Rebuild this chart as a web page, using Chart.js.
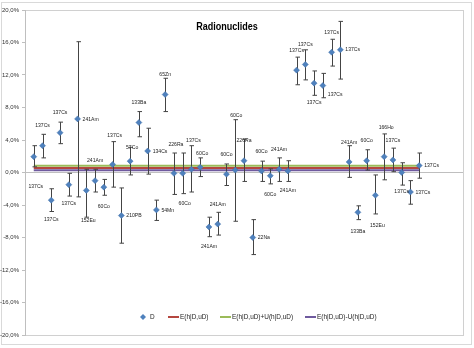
<!DOCTYPE html>
<html>
<head>
<meta charset="utf-8">
<script src="https://cdn.jsdelivr.net/npm/chart.js@4/dist/chart.umd.min.js"></script>
<style>
html,body{margin:0;padding:0;background:#fff;}
#wrap{width:474px;height:348px;position:relative;}
</style>
</head>
<body>
<div id="wrap"><canvas id="c" width="474" height="348"></canvas></div>
<script>
// ---- data (values in %) ----
const nuclides = ["137Cs","137Cs","137Cs","137Cs","137Cs","241Am","152Eu","241Am","60Co","137Cs",
  "210PB","57Co","133Ba","134Cs","54Mn","65Zn","226Ra","60Co","137Cs","60Co",
  "241Am","241Am","60Co","60Co","226Ra","22Na","60Co","60Co","241Am","241Am",
  "137Cs","137Cs","137Cs","137Cs","137Cs","137Cs","241Am","133Ba","60Co","152Eu",
  "166Ho","137Cs","137Cs","137Cs","137Cs"];
const dValues = [1.95,3.3,-3.4,4.9,-1.5,6.6,-2.2,-1.0,-1.8,1.0,
  -5.3,1.4,6.15,2.65,-4.6,9.6,-0.1,-0.1,0.4,0.65,
  -6.7,-6.35,-0.2,0.3,1.45,-8.0,0.2,-0.4,0.4,0.2,
  12.6,13.3,11.0,10.7,14.8,15.1,1.3,-4.9,1.45,-2.8,
  1.95,1.55,0.0,-2.4,0.85];
const upperValues = [3.3,4.7,-2.0,6.2,-0.1,16.1,0.4,0.4,-0.85,3.8,
  -1.9,3.1,7.5,5.45,-3.4,11.6,2.4,2.4,3.3,1.8,
  -5.5,-4.9,1.05,6.5,4.1,-5.8,1.4,0.45,1.8,1.45,
  14.2,15.1,12.5,12.2,16.4,18.6,3.3,-4.1,2.8,-0.3,
  4.75,3.0,1.2,-1.0,2.4];
const lowerValues = [0.7,1.8,-4.8,3.55,-2.9,-3.0,-5.5,-2.4,-2.8,-1.8,
  -8.7,-0.3,4.4,-0.2,-5.9,7.5,-2.7,-2.6,-2.4,-0.5,
  -7.9,-7.7,-1.6,-6.0,-1.1,-10.1,-1.1,-1.4,-1.1,-1.1,
  10.8,11.4,9.5,9.2,13.1,11.5,-0.6,-5.8,0.3,-5.1,
  -0.9,0.1,-1.55,-3.9,-0.7];
// label placement codes: a=above, A=far above, n=near above, T=above error bar,
// b=below, B=far below, r=right, R=right-low
const labelPlacement = ["B","a","b","a","b","r","B","a","b","A",
  "r","n","a","r","r","a","A","B","A","n",
  "b","a","a","T","a","r","a","b","a","b",
  "a","a","b","R","a","r","a","b","a","B",
  "A","a","b","r","r"];
const eValue = [0.55];
const uValue = [0.28];
const yTicks = [-20,-16,-12,-8,-4,0,4,8,12,16,20];
const seriesNames = ["D","E(h|D,uD)","E(h|D,uD)+U(h|D,uD)","E(h|D,uD)-U(h|D,uD)"];

const COLORS = {d:"#4F81BD", e:"#B5473F", eu:"#9BBB59", el:"#6F5A9E", err:"#444444"};
const FONT = "'Liberation Sans',Arial,sans-serif";

const pts = dValues.map((v,i)=>({x:i+1,y:v}));
const xFirst = 1, xLast = dValues.length;
const E = eValue[0], U = uValue[0];

function narrowText(ctx, text, x, y, sx){
  ctx.save(); ctx.translate(x,y); ctx.scale(sx,1); ctx.fillText(text,0,0); ctx.restore();
}

const errorBars = {
  id:'errorBars',
  beforeDatasetDraw(chart, args){
    if(args.index!==3) return;
    const {ctx, scales:{x,y}} = chart;
    ctx.save();
    ctx.strokeStyle = COLORS.err; ctx.lineWidth = 1;
    dValues.forEach((v,i)=>{
      const px = Math.round(x.getPixelForValue(i+1))+0.5;
      const yt = y.getPixelForValue(upperValues[i]);
      const yb = y.getPixelForValue(lowerValues[i]);
      ctx.beginPath();
      ctx.moveTo(px,yt); ctx.lineTo(px,yb);
      ctx.moveTo(px-2,yt); ctx.lineTo(px+2.5,yt);
      ctx.moveTo(px-2,yb); ctx.lineTo(px+2.5,yb);
      ctx.stroke();
    });
    ctx.restore();
  }
};

const decorations = {
  id:'decorations',
  beforeDraw(chart){
    const {ctx, chartArea:a} = chart;
    ctx.save();
    ctx.fillStyle='#fff'; ctx.fillRect(0,0,chart.width,chart.height);
    ctx.strokeStyle='#d9d9d9'; ctx.lineWidth=1;
    ctx.strokeRect(1.5,2.5,470,342);
    ctx.strokeStyle='#d0d0d0';
    ctx.strokeRect(Math.round(a.left)+0.5,Math.round(a.top)+0.5,Math.round(a.right-a.left),Math.round(a.bottom-a.top));
    ctx.restore();
  },
  afterDraw(chart){
    const {ctx, scales:{x,y}} = chart;
    ctx.save();
    ctx.fillStyle='#000';
    ctx.font = "bold 11px "+FONT;
    ctx.textAlign='center'; ctx.textBaseline='middle';
    narrowText(ctx,"Radionuclides",227,27,0.82);
    ctx.font = "6px "+FONT;
    ctx.fillStyle='#222';
    const S = 0.85;
    nuclides.forEach((lab,i)=>{
      const px = x.getPixelForValue(i+1), py = y.getPixelForValue(dValues[i]);
      const p = labelPlacement[i];
      ctx.textAlign='center';
      if(p==='a') narrowText(ctx,lab,px,py-20,S);
      else if(p==='A') narrowText(ctx,lab,px+2,py-29,S);
      else if(p==='n') narrowText(ctx,lab,px+2,py-14,S);
      else if(p==='T') narrowText(ctx,lab,px+1,y.getPixelForValue(upperValues[i])-4,S);
      else if(p==='b') narrowText(ctx,lab,px,py+19,S);
      else if(p==='B') narrowText(ctx,lab,px+2,py+30,S);
      else if(p==='R'){ctx.textAlign='left'; narrowText(ctx,lab,px+5,py+9,S);}
      else {ctx.textAlign='left'; narrowText(ctx,lab,px+5,py,S);}
    });
    const ly = 317;
    ctx.font = "7px "+FONT;
    ctx.textAlign='left';
    ctx.fillStyle=COLORS.d;
    ctx.beginPath(); ctx.moveTo(143,ly-3); ctx.lineTo(146,ly); ctx.lineTo(143,ly+3); ctx.lineTo(140,ly); ctx.closePath(); ctx.fill();
    ctx.fillStyle='#222'; narrowText(ctx,seriesNames[0],150,ly,0.92);
    const items=[[168,COLORS.e,seriesNames[1]],[220,COLORS.eu,seriesNames[2]],[305,COLORS.el,seriesNames[3]]];
    items.forEach(([lx,col,t])=>{
      ctx.strokeStyle=col; ctx.lineWidth=2;
      ctx.beginPath(); ctx.moveTo(lx,ly); ctx.lineTo(lx+11,ly); ctx.stroke();
      narrowText(ctx,t,lx+12,ly,0.92);
    });
    ctx.restore();
  }
};

new Chart(document.getElementById('c'),{
  type:'scatter',
  data:{datasets:[
    {label:seriesNames[1], data:[{x:xFirst,y:E},{x:xLast,y:E}], showLine:true, borderColor:COLORS.e, borderWidth:2, pointRadius:0, order:3},
    {label:seriesNames[2], data:[{x:xFirst,y:E+U},{x:xLast,y:E+U}], showLine:true, borderColor:COLORS.eu, borderWidth:2, pointRadius:0, order:2},
    {label:seriesNames[3], data:[{x:xFirst,y:E-U},{x:xLast,y:E-U}], showLine:true, borderColor:COLORS.el, borderWidth:2, pointRadius:0, order:1},
    {label:seriesNames[0], data:pts, pointStyle:'rectRot', pointRadius:3, backgroundColor:COLORS.d, borderColor:'#3f6fa8', borderWidth:0.5, order:0}
  ]},
  options:{
    responsive:false, animation:false,
    layout:{padding:{top:10,right:11,bottom:13,left:0}},
    plugins:{legend:{display:false}, tooltip:{enabled:false}, title:{display:false}},
    scales:{
      x:{type:'linear', min:0, max:50, display:false},
      y:{type:'linear', min:-20, max:20,
         afterBuildTicks(s){ s.ticks = yTicks.map(v=>({value:v})); },
         afterFit(s){ s.width = 25; },
         ticks:{font:{family:FONT,size:6}, color:'#333', padding:3,
           callback:(v)=>v.toFixed(1).replace('.',',')+'%'},
         border:{display:true, color:'#bfbfbf'},
         grid:{drawOnChartArea:true, tickLength:3,
           color:(c)=>c.tick && c.tick.value===0 ? '#bfbfbf' : 'rgba(0,0,0,0)',
           tickColor:'#bfbfbf'}}
    }
  },
  plugins:[decorations, errorBars]
});
</script>
</body>
</html>
